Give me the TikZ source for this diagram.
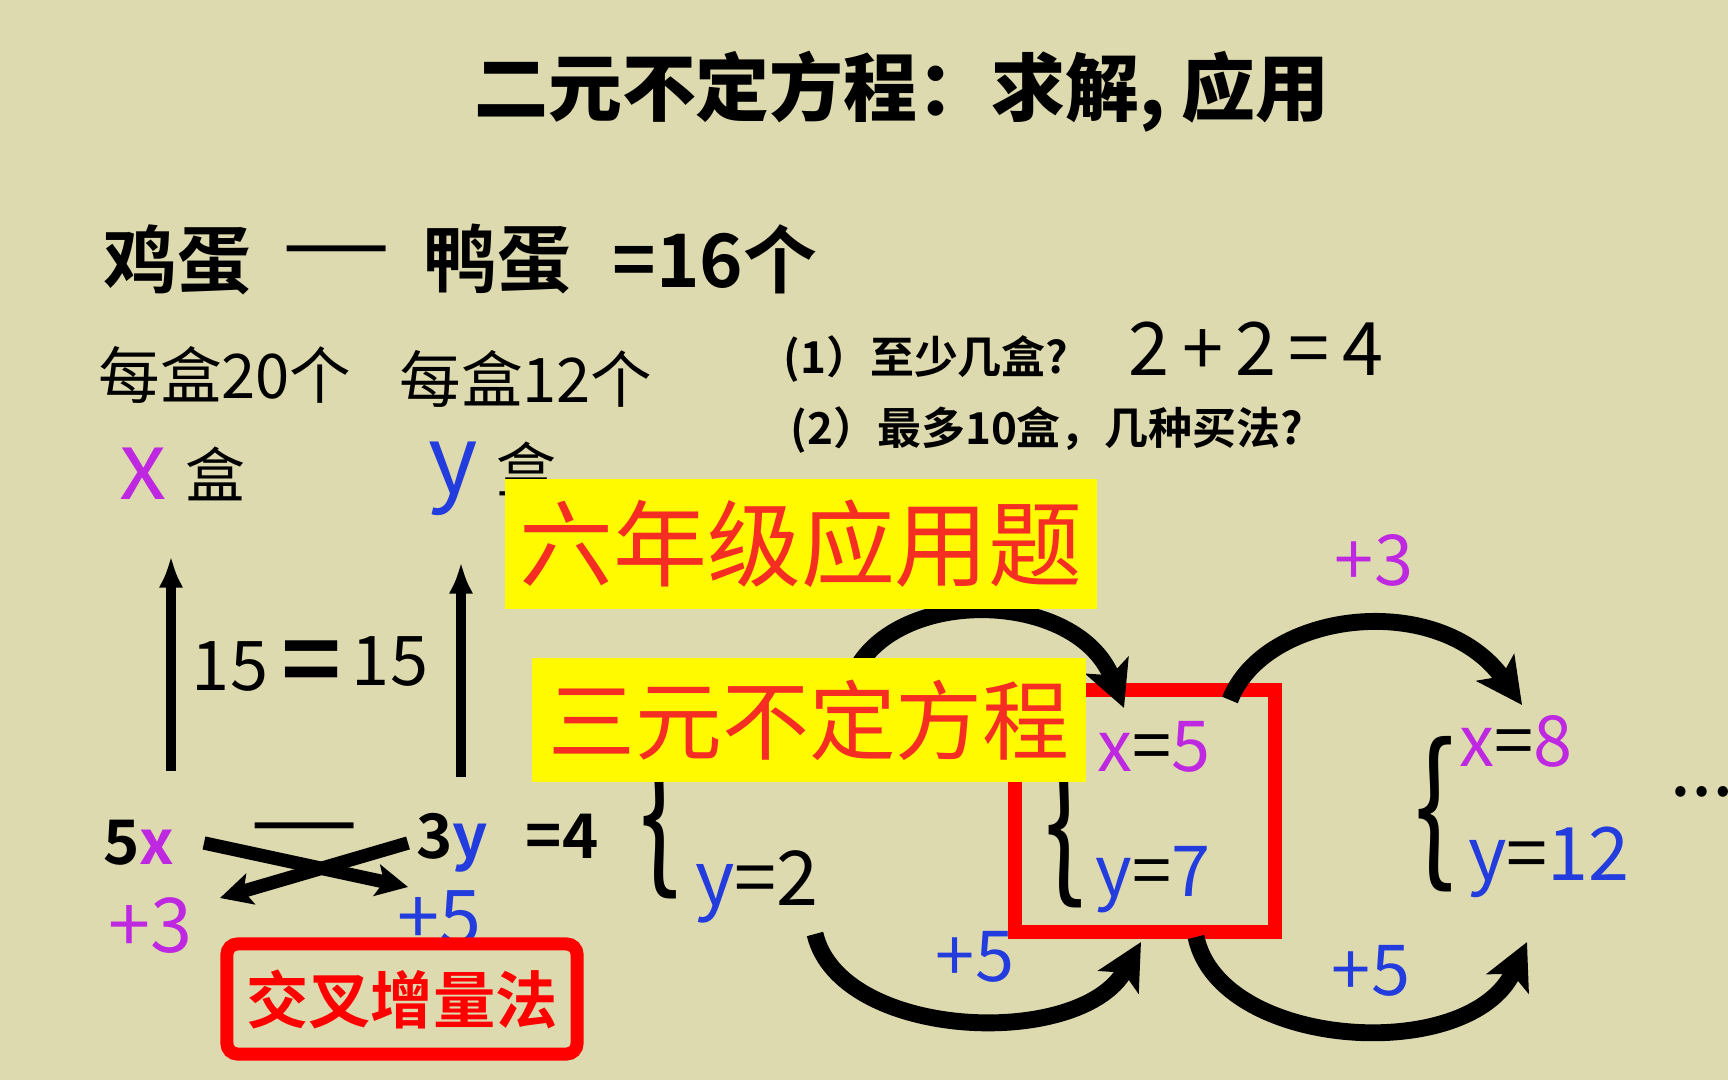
\documentclass[tikz,border=0pt]{standalone}
\usepackage{graphicx}
\usepackage{fontspec}
\setmainfont{Noto Sans CJK SC}[BoldFont={Noto Sans CJK SC Bold}]
\newfontfamily\heavy{Noto Sans CJK SC Black}
\usetikzlibrary{positioning}
\usetikzlibrary{arrows.meta}
\definecolor{paper}{RGB}{222,218,176}
\definecolor{xpurple}{RGB}{190,40,225}
\definecolor{yblue}{RGB}{35,60,222}
\definecolor{hlred}{RGB}{245,45,35}
\definecolor{boxred}{RGB}{255,0,0}
\definecolor{hlyellow}{RGB}{255,250,0}
\newcommand{\Fsize}[1]{\fontsize{#1}{#1}\selectfont}
\newcommand{\Px}[1]{\textcolor{xpurple}{#1}}
\newcommand{\Py}[1]{\textcolor{yblue}{#1}}
\newcommand{\Brace}{\scalebox{0.75}[1]{\{}}
\newcommand{\Dash}{\scalebox{1.3}[1]{—}}
\tikzstyle{txt} = [inner sep=0pt, text=black]
\tikzstyle{hl} = [fill=hlyellow, text=hlred, inner sep=0pt]
\tikzstyle{brace} = [txt, font=\Fsize{46pt}]
\tikzstyle{sol} = [txt, font=\Fsize{20pt}]
\tikzstyle{jump} = [line width=4.8pt, -{Stealth[length=13pt,width=13pt,inset=3pt]}]
\tikzstyle{upar} = [line width=2.8pt, -{Latex[length=9pt,width=7pt]}]
\tikzstyle{cross} = [line width=3.8pt, -{Stealth[length=9pt,width=9pt,inset=2pt]}]

\begin{document}
\begin{tikzpicture}[x=0.01cm, y=-0.01cm]
\fill[paper] (0,0) rectangle (1728,1080);
\useasboundingbox (0,0) rectangle (1728,1080);

% Define nodes
\node[txt, font=\Fsize{21pt}\heavy] (title) at (902,92) {二元不定方程：求解, 应用};

\node[txt, font=\Fsize{21pt}\bfseries] (jd)  at (177,260) {鸡蛋};
\node[txt, font=\Fsize{27pt}]          (d1)  at (337,261) {\Dash};
\node[txt, font=\Fsize{21pt}\bfseries] (yd)  at (497,259) {鸭蛋};
\node[txt, font=\Fsize{21pt}\bfseries] (sum) at (715,259) {=16个};

\node[txt, font=\Fsize{17.5pt}] (pa) at (225,375) {每盒20个};
\node[txt, font=\Fsize{17.5pt}] (pb) at (526,379) {每盒12个};
\node[txt, font=\Fsize{27pt}, text=xpurple] (vx) at (143,474) {x};
\node[txt, font=\Fsize{17pt}, right=5pt of vx] (hx) {盒};
\node[txt, font=\Fsize{27pt}, text=yblue]   (vy) at (453,479) {y};
\node[txt, font=\Fsize{17pt}, right=5pt of vy, yshift=3pt] (hy) {盒};

\node[txt, font=\Fsize{12.5pt}\bfseries] (q1) at (926,359) {(1）至少几盒?};
\node[txt, font=\Fsize{21pt}]            (q1a) at (1256,349) {2\,+\,2\,=\,4};
\node[txt, font=\Fsize{12.5pt}\bfseries] (q2) at (1047,430) {(2）最多10盒，几种买法?};

\node[txt, font=\Fsize{19.5pt}] (fa) at (230,667) {15};
\node[txt, font=\Fsize{29pt}\bfseries] (fe) at (312,669) {=};
\node[txt, font=\Fsize{19.5pt}] (fb) at (390,661) {15};

\node[txt, font=\Fsize{17.5pt}\bfseries] (ex) at (139,843) {5\Px{x}};
\node[txt, font=\Fsize{27pt}]            (d2) at (305,838) {\Dash};
\node[txt, font=\Fsize{17.5pt}\bfseries] (ey) at (452,843) {3\Py{y}};
\node[txt, font=\Fsize{17.5pt}\bfseries] (eq) at (562,836) {=4};
\node[txt, font=\Fsize{21.5pt}, text=xpurple] (ix) at (150,926) {+3};
\node[txt, font=\Fsize{21.5pt}, text=yblue]   (iy) at (439,918) {+5};

% solutions
\node[brace] (b1) at (660,821) {\Brace};
\node[sol, font=\Fsize{21.5pt}] (s1y) at (757,887) {\Py{y}=2};
\node[brace] (b2) at (1065,830) {\Brace};
\node[sol] (s2x) at (1154,747) {\Px{x}=\Px{5}};
\node[sol] (s2y) at (1153,880) {\Py{y}=\Py{7}};
\node[brace] (b3) at (1435,814) {\Brace};
\node[sol] (s3x) at (1516,741) {\Px{x}=\Px{8}};
\node[sol, font=\Fsize{21pt}] (s3y) at (1549,862) {\Py{y}=\Py{12}};
\node[txt, font=\Fsize{16pt}\bfseries, anchor=west] (more) at (1670,792) {……};

\node[txt, font=\Fsize{20pt}, text=xpurple] (l3) at (1374,560) {+3};
\node[txt, font=\Fsize{20pt}, text=yblue]   (l5a) at (975,957) {+5};
\node[txt, font=\Fsize{20pt}, text=yblue]   (l5b) at (1371,971) {+5};

% Edges
\draw[upar] (171,771) coordinate (ua) -- (171,556) coordinate (ub);
\draw[upar] (461,777) coordinate (uc) -- (461,562) coordinate (ud);
\draw[cross] (204,843) coordinate (ca) -- (408,887) coordinate (cb);
\draw[cross] (408,843) coordinate (cc) -- (220,898) coordinate (cd);

\draw[boxred, line width=4pt] (1015,690) rectangle (1275,932);

\coordinate (t1s) at (848,690);  \coordinate (t1e) at (1124,708);
\coordinate (t2s) at (1230,700); \coordinate (t2e) at (1522,705);
\coordinate (d1s) at (815,934);  \coordinate (d1e) at (1141,942);
\coordinate (d2s) at (1196,937); \coordinate (d2e) at (1527,942);
\draw[jump] (t1s) .. controls (875,585) and (1075,585) .. (t1e);
\draw[jump] (t2s) .. controls (1265,610) and (1440,590) .. (t2e);
\draw[jump] (d1s) .. controls (840,1040) and (1080,1050) .. (d1e);
\draw[jump] (d2s) .. controls (1220,1050) and (1470,1065) .. (d2e);

% highlights
\node[hl, font=\Fsize{26.7pt}, minimum width=5.92cm, minimum height=1.30cm] (hl1) at (801,544) {六年级应用题};
\node[hl, font=\Fsize{24.7pt}, minimum width=5.54cm, minimum height=1.23cm] (hl2) at (809,720) {三元不定方程};
\node[draw=boxred, line width=3.7pt, rounded corners=3pt, text=boxred, font=\Fsize{17.7pt}\bfseries,
      minimum width=3.50cm, minimum height=1.10cm] (method) at (402,999) {交叉增量法};
\end{tikzpicture}
\end{document}
